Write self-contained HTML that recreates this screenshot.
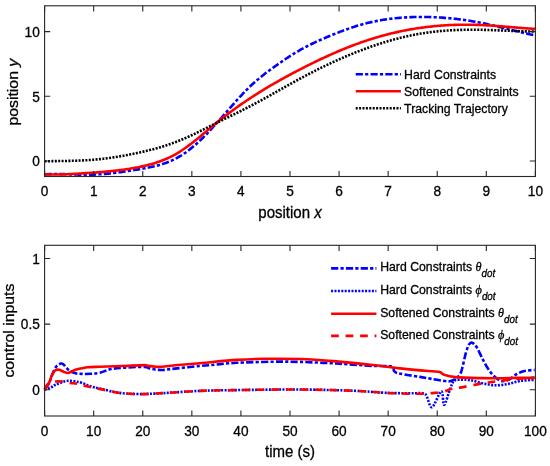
<!DOCTYPE html>
<html><head><meta charset="utf-8"><title>Figure</title>
<style>
html,body{margin:0;padding:0;background:#fff;}
body{width:550px;height:466px;overflow:hidden;}
svg{display:block;}
text{font-family:"Liberation Sans",Arial,Helvetica,sans-serif;fill:#000;stroke:#000;stroke-width:0.3px;}
</style></head><body>
<svg width="550" height="466" viewBox="0 0 550 466">
<rect width="550" height="466" fill="#fff"/>

<g fill="none" stroke-linejoin="round">
<path d="M44.60 174.41 C45.02 174.38 46.27 174.30 47.10 174.25 C47.93 174.21 48.77 174.17 49.60 174.15 C50.43 174.12 51.27 174.09 52.10 174.08 C52.93 174.06 53.77 174.05 54.60 174.04 C55.43 174.04 56.27 174.03 57.10 174.04 C57.93 174.04 58.77 174.05 59.60 174.06 C60.43 174.07 61.27 174.09 62.10 174.10 C62.93 174.12 63.77 174.14 64.60 174.16 C65.43 174.19 66.27 174.21 67.10 174.24 C67.93 174.26 68.77 174.29 69.60 174.32 C70.43 174.34 71.27 174.37 72.10 174.40 C72.93 174.43 73.77 174.46 74.60 174.48 C75.43 174.51 76.27 174.54 77.10 174.56 C77.93 174.59 78.77 174.61 79.60 174.63 C80.43 174.65 81.27 174.67 82.10 174.68 C82.93 174.70 83.77 174.71 84.60 174.72 C85.43 174.72 86.27 174.73 87.10 174.73 C87.93 174.73 88.77 174.72 89.60 174.71 C90.43 174.70 91.27 174.68 92.10 174.66 C92.93 174.64 93.77 174.61 94.60 174.58 C95.43 174.55 96.27 174.51 97.10 174.47 C97.93 174.42 98.77 174.38 99.60 174.32 C100.43 174.27 101.27 174.21 102.10 174.15 C102.93 174.09 103.77 174.03 104.60 173.96 C105.43 173.89 106.27 173.81 107.10 173.74 C107.93 173.66 108.77 173.58 109.60 173.49 C110.43 173.41 111.27 173.32 112.10 173.22 C112.93 173.13 113.77 173.03 114.60 172.93 C115.43 172.83 116.27 172.73 117.10 172.63 C117.93 172.52 118.77 172.41 119.60 172.30 C120.43 172.19 121.27 172.07 122.10 171.95 C122.93 171.84 123.77 171.72 124.60 171.59 C125.43 171.47 126.27 171.35 127.10 171.22 C127.93 171.09 128.77 170.96 129.60 170.83 C130.43 170.70 131.27 170.57 132.10 170.43 C132.93 170.30 133.77 170.16 134.60 170.03 C135.43 169.89 136.27 169.75 137.10 169.61 C137.93 169.47 138.77 169.33 139.60 169.18 C140.43 169.04 141.27 168.90 142.10 168.75 C142.93 168.61 143.77 168.46 144.60 168.31 C145.43 168.16 146.27 168.00 147.10 167.84 C147.93 167.68 148.77 167.52 149.60 167.35 C150.43 167.18 151.27 167.01 152.10 166.82 C152.93 166.64 153.77 166.45 154.60 166.25 C155.43 166.05 156.27 165.85 157.10 165.63 C157.93 165.41 158.77 165.19 159.60 164.95 C160.43 164.71 161.27 164.47 162.10 164.21 C162.93 163.94 163.77 163.67 164.60 163.38 C165.43 163.10 166.27 162.80 167.10 162.48 C167.93 162.17 168.77 161.84 169.60 161.49 C170.43 161.15 171.27 160.78 172.10 160.40 C172.93 160.02 173.77 159.63 174.60 159.21 C175.43 158.79 176.27 158.36 177.10 157.91 C177.93 157.45 178.77 156.98 179.60 156.48 C180.43 155.98 181.27 155.47 182.10 154.93 C182.93 154.39 183.77 153.83 184.60 153.25 C185.43 152.67 186.27 152.07 187.10 151.46 C187.93 150.84 188.77 150.20 189.60 149.55 C190.43 148.89 191.27 148.22 192.10 147.53 C192.93 146.84 193.77 146.14 194.60 145.42 C195.43 144.69 196.27 143.96 197.10 143.20 C197.93 142.45 198.77 141.68 199.60 140.90 C200.43 140.12 201.27 139.32 202.10 138.51 C202.93 137.70 203.77 136.88 204.60 136.04 C205.43 135.21 206.27 134.36 207.10 133.50 C207.93 132.65 208.77 131.78 209.60 130.90 C210.43 130.02 211.27 129.13 212.10 128.23 C212.93 127.33 213.77 126.42 214.60 125.50 C215.43 124.58 216.27 123.66 217.10 122.73 C217.93 121.79 218.77 120.85 219.60 119.91 C220.43 118.97 221.27 118.02 222.10 117.06 C222.93 116.11 223.77 115.15 224.60 114.20 C225.43 113.24 226.27 112.28 227.10 111.33 C227.93 110.37 228.77 109.41 229.60 108.46 C230.43 107.50 231.27 106.55 232.10 105.60 C232.93 104.65 233.77 103.71 234.60 102.77 C235.43 101.83 236.27 100.90 237.10 99.97 C237.93 99.05 238.77 98.13 239.60 97.22 C240.43 96.32 241.27 95.42 242.10 94.53 C242.93 93.64 243.77 92.77 244.60 91.91 C245.43 91.04 246.27 90.19 247.10 89.36 C247.93 88.53 248.77 87.71 249.60 86.90 C250.43 86.10 251.27 85.32 252.10 84.55 C252.93 83.78 253.77 83.03 254.60 82.29 C255.43 81.55 256.27 80.82 257.10 80.11 C257.93 79.40 258.77 78.70 259.60 78.02 C260.43 77.33 261.27 76.66 262.10 75.99 C262.93 75.33 263.77 74.67 264.60 74.03 C265.43 73.38 266.27 72.75 267.10 72.12 C267.93 71.49 268.77 70.87 269.60 70.26 C270.43 69.64 271.27 69.04 272.10 68.43 C272.93 67.83 273.77 67.23 274.60 66.64 C275.43 66.04 276.27 65.45 277.10 64.86 C277.93 64.27 278.77 63.69 279.60 63.11 C280.43 62.53 281.27 61.95 282.10 61.38 C282.93 60.81 283.77 60.25 284.60 59.68 C285.43 59.12 286.27 58.57 287.10 58.02 C287.93 57.47 288.77 56.93 289.60 56.39 C290.43 55.85 291.27 55.32 292.10 54.80 C292.93 54.28 293.77 53.76 294.60 53.25 C295.43 52.74 296.27 52.24 297.10 51.75 C297.93 51.25 298.77 50.77 299.60 50.29 C300.43 49.82 301.27 49.35 302.10 48.89 C302.93 48.43 303.77 47.98 304.60 47.54 C305.43 47.09 306.27 46.66 307.10 46.23 C307.93 45.80 308.77 45.38 309.60 44.96 C310.43 44.55 311.27 44.14 312.10 43.74 C312.93 43.34 313.77 42.94 314.60 42.55 C315.43 42.16 316.27 41.78 317.10 41.40 C317.93 41.02 318.77 40.64 319.60 40.27 C320.43 39.90 321.27 39.54 322.10 39.17 C322.93 38.81 323.77 38.45 324.60 38.10 C325.43 37.74 326.27 37.39 327.10 37.04 C327.93 36.69 328.77 36.35 329.60 36.00 C330.43 35.66 331.27 35.32 332.10 34.98 C332.93 34.64 333.77 34.30 334.60 33.97 C335.43 33.63 336.27 33.30 337.10 32.97 C337.93 32.64 338.77 32.32 339.60 32.00 C340.43 31.67 341.27 31.36 342.10 31.04 C342.93 30.73 343.77 30.41 344.60 30.11 C345.43 29.80 346.27 29.50 347.10 29.20 C347.93 28.90 348.77 28.61 349.60 28.32 C350.43 28.03 351.27 27.75 352.10 27.47 C352.93 27.19 353.77 26.92 354.60 26.65 C355.43 26.38 356.27 26.12 357.10 25.86 C357.93 25.61 358.77 25.36 359.60 25.11 C360.43 24.87 361.27 24.63 362.10 24.40 C362.93 24.17 363.77 23.95 364.60 23.73 C365.43 23.51 366.27 23.30 367.10 23.09 C367.93 22.88 368.77 22.68 369.60 22.49 C370.43 22.29 371.27 22.11 372.10 21.92 C372.93 21.74 373.77 21.56 374.60 21.39 C375.43 21.22 376.27 21.06 377.10 20.90 C377.93 20.74 378.77 20.58 379.60 20.43 C380.43 20.28 381.27 20.14 382.10 20.00 C382.93 19.86 383.77 19.73 384.60 19.60 C385.43 19.48 386.27 19.35 387.10 19.24 C387.93 19.12 388.77 19.01 389.60 18.90 C390.43 18.79 391.27 18.69 392.10 18.59 C392.93 18.49 393.77 18.40 394.60 18.31 C395.43 18.22 396.27 18.14 397.10 18.06 C397.93 17.98 398.77 17.91 399.60 17.84 C400.43 17.77 401.27 17.70 402.10 17.64 C402.93 17.58 403.77 17.53 404.60 17.47 C405.43 17.42 406.27 17.37 407.10 17.33 C407.93 17.29 408.77 17.25 409.60 17.21 C410.43 17.17 411.27 17.14 412.10 17.11 C412.93 17.09 413.77 17.06 414.60 17.04 C415.43 17.02 416.27 17.00 417.10 16.99 C417.93 16.98 418.77 16.97 419.60 16.96 C420.43 16.96 421.27 16.95 422.10 16.95 C422.93 16.96 423.77 16.96 424.60 16.97 C425.43 16.98 426.27 16.99 427.10 17.00 C427.93 17.02 428.77 17.04 429.60 17.06 C430.43 17.08 431.27 17.10 432.10 17.13 C432.93 17.16 433.77 17.19 434.60 17.23 C435.43 17.27 436.27 17.31 437.10 17.35 C437.93 17.39 438.77 17.44 439.60 17.49 C440.43 17.54 441.27 17.59 442.10 17.65 C442.93 17.70 443.77 17.76 444.60 17.83 C445.43 17.89 446.27 17.96 447.10 18.03 C447.93 18.10 448.77 18.18 449.60 18.25 C450.43 18.33 451.27 18.41 452.10 18.50 C452.93 18.58 453.77 18.67 454.60 18.76 C455.43 18.86 456.27 18.95 457.10 19.05 C457.93 19.15 458.77 19.25 459.60 19.36 C460.43 19.46 461.27 19.57 462.10 19.69 C462.93 19.80 463.77 19.92 464.60 20.04 C465.43 20.16 466.27 20.28 467.10 20.41 C467.93 20.53 468.77 20.66 469.60 20.80 C470.43 20.93 471.27 21.07 472.10 21.21 C472.93 21.35 473.77 21.50 474.60 21.65 C475.43 21.80 476.27 21.95 477.10 22.10 C477.93 22.26 478.77 22.42 479.60 22.58 C480.43 22.74 481.27 22.91 482.10 23.08 C482.93 23.25 483.77 23.42 484.60 23.60 C485.43 23.77 486.27 23.95 487.10 24.13 C487.93 24.31 488.77 24.50 489.60 24.68 C490.43 24.87 491.27 25.06 492.10 25.25 C492.93 25.44 493.77 25.63 494.60 25.83 C495.43 26.02 496.27 26.22 497.10 26.42 C497.93 26.62 498.77 26.81 499.60 27.02 C500.43 27.22 501.27 27.42 502.10 27.62 C502.93 27.82 503.77 28.03 504.60 28.23 C505.43 28.43 506.27 28.64 507.10 28.84 C507.93 29.05 508.77 29.25 509.60 29.46 C510.43 29.66 511.27 29.87 512.10 30.07 C512.93 30.28 513.77 30.48 514.60 30.68 C515.43 30.89 516.27 31.09 517.10 31.29 C517.93 31.49 518.77 31.69 519.60 31.89 C520.43 32.09 521.27 32.29 522.10 32.49 C522.93 32.69 523.77 32.88 524.60 33.07 C525.43 33.27 526.27 33.46 527.10 33.65 C527.93 33.84 528.77 34.02 529.60 34.21 C530.43 34.39 531.27 34.57 532.10 34.75 C532.93 34.93 534.12 35.18 534.60 35.28 C535.08 35.38 534.93 35.35 535.00 35.36" stroke="#0000ff" stroke-width="2.60" stroke-dasharray="7.2 2.2 3.2 2.2"/>
<path d="M44.60 174.41 C45.02 174.42 46.27 174.45 47.10 174.46 C47.93 174.47 48.77 174.48 49.60 174.49 C50.43 174.50 51.27 174.50 52.10 174.50 C52.93 174.50 53.77 174.49 54.60 174.49 C55.43 174.48 56.27 174.47 57.10 174.46 C57.93 174.45 58.77 174.43 59.60 174.41 C60.43 174.39 61.27 174.37 62.10 174.35 C62.93 174.33 63.77 174.30 64.60 174.27 C65.43 174.24 66.27 174.21 67.10 174.18 C67.93 174.15 68.77 174.11 69.60 174.08 C70.43 174.04 71.27 174.00 72.10 173.96 C72.93 173.92 73.77 173.88 74.60 173.83 C75.43 173.79 76.27 173.74 77.10 173.69 C77.93 173.65 78.77 173.60 79.60 173.55 C80.43 173.50 81.27 173.44 82.10 173.39 C82.93 173.34 83.77 173.28 84.60 173.23 C85.43 173.17 86.27 173.12 87.10 173.06 C87.93 173.01 88.77 172.95 89.60 172.89 C90.43 172.83 91.27 172.77 92.10 172.71 C92.93 172.65 93.77 172.59 94.60 172.53 C95.43 172.47 96.27 172.41 97.10 172.35 C97.93 172.28 98.77 172.22 99.60 172.15 C100.43 172.08 101.27 172.02 102.10 171.95 C102.93 171.88 103.77 171.81 104.60 171.73 C105.43 171.66 106.27 171.59 107.10 171.51 C107.93 171.43 108.77 171.35 109.60 171.27 C110.43 171.19 111.27 171.10 112.10 171.02 C112.93 170.93 113.77 170.84 114.60 170.75 C115.43 170.66 116.27 170.56 117.10 170.47 C117.93 170.37 118.77 170.27 119.60 170.16 C120.43 170.06 121.27 169.95 122.10 169.84 C122.93 169.73 123.77 169.61 124.60 169.50 C125.43 169.38 126.27 169.26 127.10 169.13 C127.93 169.00 128.77 168.87 129.60 168.74 C130.43 168.61 131.27 168.47 132.10 168.33 C132.93 168.18 133.77 168.04 134.60 167.88 C135.43 167.73 136.27 167.58 137.10 167.42 C137.93 167.25 138.77 167.09 139.60 166.92 C140.43 166.75 141.27 166.57 142.10 166.39 C142.93 166.21 143.77 166.02 144.60 165.82 C145.43 165.63 146.27 165.43 147.10 165.22 C147.93 165.01 148.77 164.80 149.60 164.58 C150.43 164.35 151.27 164.12 152.10 163.88 C152.93 163.64 153.77 163.40 154.60 163.14 C155.43 162.88 156.27 162.61 157.10 162.34 C157.93 162.06 158.77 161.77 159.60 161.48 C160.43 161.18 161.27 160.87 162.10 160.55 C162.93 160.23 163.77 159.90 164.60 159.55 C165.43 159.21 166.27 158.85 167.10 158.48 C167.93 158.11 168.77 157.73 169.60 157.33 C170.43 156.93 171.27 156.52 172.10 156.10 C172.93 155.67 173.77 155.23 174.60 154.78 C175.43 154.32 176.27 153.85 177.10 153.37 C177.93 152.88 178.77 152.38 179.60 151.86 C180.43 151.34 181.27 150.80 182.10 150.25 C182.93 149.70 183.77 149.13 184.60 148.55 C185.43 147.97 186.27 147.38 187.10 146.77 C187.93 146.16 188.77 145.54 189.60 144.91 C190.43 144.28 191.27 143.64 192.10 142.99 C192.93 142.34 193.77 141.68 194.60 141.02 C195.43 140.35 196.27 139.67 197.10 139.00 C197.93 138.32 198.77 137.63 199.60 136.94 C200.43 136.25 201.27 135.55 202.10 134.86 C202.93 134.16 203.77 133.46 204.60 132.76 C205.43 132.06 206.27 131.35 207.10 130.65 C207.93 129.95 208.77 129.25 209.60 128.55 C210.43 127.85 211.27 127.15 212.10 126.46 C212.93 125.77 213.77 125.08 214.60 124.39 C215.43 123.71 216.27 123.03 217.10 122.36 C217.93 121.68 218.77 121.02 219.60 120.35 C220.43 119.69 221.27 119.03 222.10 118.38 C222.93 117.73 223.77 117.08 224.60 116.44 C225.43 115.80 226.27 115.16 227.10 114.53 C227.93 113.90 228.77 113.28 229.60 112.65 C230.43 112.03 231.27 111.42 232.10 110.80 C232.93 110.19 233.77 109.59 234.60 108.98 C235.43 108.38 236.27 107.78 237.10 107.19 C237.93 106.60 238.77 106.01 239.60 105.43 C240.43 104.84 241.27 104.26 242.10 103.69 C242.93 103.11 243.77 102.54 244.60 101.98 C245.43 101.41 246.27 100.85 247.10 100.29 C247.93 99.73 248.77 99.18 249.60 98.63 C250.43 98.08 251.27 97.53 252.10 96.99 C252.93 96.45 253.77 95.91 254.60 95.38 C255.43 94.84 256.27 94.31 257.10 93.79 C257.93 93.26 258.77 92.74 259.60 92.22 C260.43 91.70 261.27 91.18 262.10 90.67 C262.93 90.16 263.77 89.65 264.60 89.15 C265.43 88.64 266.27 88.14 267.10 87.64 C267.93 87.14 268.77 86.65 269.60 86.16 C270.43 85.66 271.27 85.17 272.10 84.69 C272.93 84.20 273.77 83.72 274.60 83.24 C275.43 82.76 276.27 82.29 277.10 81.81 C277.93 81.34 278.77 80.87 279.60 80.40 C280.43 79.93 281.27 79.47 282.10 79.00 C282.93 78.54 283.77 78.08 284.60 77.62 C285.43 77.17 286.27 76.71 287.10 76.26 C287.93 75.81 288.77 75.36 289.60 74.91 C290.43 74.46 291.27 74.02 292.10 73.57 C292.93 73.13 293.77 72.69 294.60 72.25 C295.43 71.81 296.27 71.38 297.10 70.94 C297.93 70.51 298.77 70.07 299.60 69.64 C300.43 69.21 301.27 68.78 302.10 68.36 C302.93 67.93 303.77 67.51 304.60 67.08 C305.43 66.66 306.27 66.24 307.10 65.82 C307.93 65.40 308.77 64.99 309.60 64.57 C310.43 64.16 311.27 63.74 312.10 63.33 C312.93 62.93 313.77 62.52 314.60 62.11 C315.43 61.71 316.27 61.30 317.10 60.90 C317.93 60.50 318.77 60.10 319.60 59.71 C320.43 59.31 321.27 58.92 322.10 58.53 C322.93 58.14 323.77 57.75 324.60 57.37 C325.43 56.98 326.27 56.60 327.10 56.22 C327.93 55.84 328.77 55.46 329.60 55.09 C330.43 54.71 331.27 54.34 332.10 53.97 C332.93 53.60 333.77 53.24 334.60 52.87 C335.43 52.51 336.27 52.15 337.10 51.79 C337.93 51.44 338.77 51.08 339.60 50.73 C340.43 50.38 341.27 50.03 342.10 49.69 C342.93 49.35 343.77 49.00 344.60 48.67 C345.43 48.33 346.27 47.99 347.10 47.66 C347.93 47.33 348.77 47.00 349.60 46.68 C350.43 46.35 351.27 46.03 352.10 45.71 C352.93 45.40 353.77 45.08 354.60 44.77 C355.43 44.46 356.27 44.15 357.10 43.85 C357.93 43.54 358.77 43.24 359.60 42.95 C360.43 42.65 361.27 42.36 362.10 42.07 C362.93 41.78 363.77 41.50 364.60 41.22 C365.43 40.93 366.27 40.66 367.10 40.38 C367.93 40.11 368.77 39.84 369.60 39.57 C370.43 39.31 371.27 39.04 372.10 38.78 C372.93 38.52 373.77 38.27 374.60 38.02 C375.43 37.76 376.27 37.52 377.10 37.27 C377.93 37.03 378.77 36.79 379.60 36.55 C380.43 36.31 381.27 36.08 382.10 35.85 C382.93 35.62 383.77 35.39 384.60 35.17 C385.43 34.95 386.27 34.73 387.10 34.51 C387.93 34.30 388.77 34.09 389.60 33.88 C390.43 33.67 391.27 33.47 392.10 33.27 C392.93 33.07 393.77 32.87 394.60 32.68 C395.43 32.48 396.27 32.29 397.10 32.11 C397.93 31.92 398.77 31.74 399.60 31.56 C400.43 31.38 401.27 31.21 402.10 31.03 C402.93 30.86 403.77 30.69 404.60 30.53 C405.43 30.37 406.27 30.20 407.10 30.05 C407.93 29.89 408.77 29.74 409.60 29.59 C410.43 29.44 411.27 29.29 412.10 29.15 C412.93 29.00 413.77 28.86 414.60 28.73 C415.43 28.59 416.27 28.46 417.10 28.33 C417.93 28.20 418.77 28.08 419.60 27.96 C420.43 27.84 421.27 27.72 422.10 27.60 C422.93 27.49 423.77 27.38 424.60 27.27 C425.43 27.16 426.27 27.06 427.10 26.96 C427.93 26.86 428.77 26.76 429.60 26.67 C430.43 26.57 431.27 26.48 432.10 26.40 C432.93 26.31 433.77 26.23 434.60 26.15 C435.43 26.07 436.27 25.99 437.10 25.92 C437.93 25.85 438.77 25.78 439.60 25.71 C440.43 25.64 441.27 25.58 442.10 25.52 C442.93 25.46 443.77 25.40 444.60 25.35 C445.43 25.30 446.27 25.25 447.10 25.20 C447.93 25.15 448.77 25.11 449.60 25.07 C450.43 25.03 451.27 24.99 452.10 24.96 C452.93 24.93 453.77 24.89 454.60 24.87 C455.43 24.84 456.27 24.82 457.10 24.79 C457.93 24.77 458.77 24.76 459.60 24.74 C460.43 24.73 461.27 24.71 462.10 24.70 C462.93 24.70 463.77 24.69 464.60 24.69 C465.43 24.68 466.27 24.69 467.10 24.69 C467.93 24.69 468.77 24.70 469.60 24.71 C470.43 24.72 471.27 24.73 472.10 24.74 C472.93 24.76 473.77 24.78 474.60 24.80 C475.43 24.82 476.27 24.84 477.10 24.87 C477.93 24.90 478.77 24.93 479.60 24.96 C480.43 24.99 481.27 25.03 482.10 25.07 C482.93 25.11 483.77 25.15 484.60 25.19 C485.43 25.23 486.27 25.28 487.10 25.33 C487.93 25.38 488.77 25.43 489.60 25.48 C490.43 25.53 491.27 25.59 492.10 25.64 C492.93 25.70 493.77 25.76 494.60 25.82 C495.43 25.87 496.27 25.94 497.10 26.00 C497.93 26.06 498.77 26.12 499.60 26.19 C500.43 26.25 501.27 26.32 502.10 26.38 C502.93 26.45 503.77 26.52 504.60 26.58 C505.43 26.65 506.27 26.72 507.10 26.79 C507.93 26.86 508.77 26.93 509.60 26.99 C510.43 27.06 511.27 27.13 512.10 27.20 C512.93 27.27 513.77 27.34 514.60 27.41 C515.43 27.48 516.27 27.54 517.10 27.61 C517.93 27.68 518.77 27.75 519.60 27.81 C520.43 27.88 521.27 27.94 522.10 28.01 C522.93 28.07 523.77 28.14 524.60 28.20 C525.43 28.26 526.27 28.32 527.10 28.38 C527.93 28.44 528.77 28.50 529.60 28.55 C530.43 28.61 531.27 28.66 532.10 28.71 C532.93 28.77 534.12 28.84 534.60 28.86 C535.08 28.89 534.93 28.88 535.00 28.89" stroke="#ff0000" stroke-width="2.60"/>
<path d="M44.60 161.32 C45.02 161.31 46.27 161.28 47.10 161.26 C47.93 161.24 48.77 161.23 49.60 161.21 C50.43 161.19 51.27 161.18 52.10 161.17 C52.93 161.15 53.77 161.14 54.60 161.13 C55.43 161.11 56.27 161.10 57.10 161.09 C57.93 161.08 58.77 161.06 59.60 161.05 C60.43 161.04 61.27 161.03 62.10 161.01 C62.93 161.00 63.77 160.99 64.60 160.97 C65.43 160.96 66.27 160.94 67.10 160.93 C67.93 160.91 68.77 160.90 69.60 160.88 C70.43 160.86 71.27 160.84 72.10 160.82 C72.93 160.80 73.77 160.77 74.60 160.75 C75.43 160.72 76.27 160.70 77.10 160.67 C77.93 160.64 78.77 160.61 79.60 160.57 C80.43 160.54 81.27 160.50 82.10 160.46 C82.93 160.42 83.77 160.38 84.60 160.33 C85.43 160.29 86.27 160.24 87.10 160.19 C87.93 160.14 88.77 160.08 89.60 160.02 C90.43 159.96 91.27 159.90 92.10 159.84 C92.93 159.77 93.77 159.70 94.60 159.62 C95.43 159.55 96.27 159.47 97.10 159.39 C97.93 159.31 98.77 159.23 99.60 159.14 C100.43 159.05 101.27 158.96 102.10 158.86 C102.93 158.77 103.77 158.67 104.60 158.57 C105.43 158.47 106.27 158.36 107.10 158.25 C107.93 158.14 108.77 158.03 109.60 157.92 C110.43 157.80 111.27 157.68 112.10 157.56 C112.93 157.44 113.77 157.32 114.60 157.19 C115.43 157.06 116.27 156.93 117.10 156.79 C117.93 156.66 118.77 156.52 119.60 156.38 C120.43 156.24 121.27 156.10 122.10 155.95 C122.93 155.81 123.77 155.66 124.60 155.50 C125.43 155.35 126.27 155.20 127.10 155.04 C127.93 154.88 128.77 154.72 129.60 154.56 C130.43 154.39 131.27 154.23 132.10 154.06 C132.93 153.89 133.77 153.72 134.60 153.54 C135.43 153.37 136.27 153.19 137.10 153.01 C137.93 152.83 138.77 152.65 139.60 152.47 C140.43 152.28 141.27 152.10 142.10 151.91 C142.93 151.72 143.77 151.52 144.60 151.33 C145.43 151.13 146.27 150.93 147.10 150.73 C147.93 150.53 148.77 150.32 149.60 150.11 C150.43 149.91 151.27 149.69 152.10 149.48 C152.93 149.26 153.77 149.04 154.60 148.82 C155.43 148.59 156.27 148.36 157.10 148.13 C157.93 147.90 158.77 147.66 159.60 147.42 C160.43 147.17 161.27 146.93 162.10 146.67 C162.93 146.42 163.77 146.16 164.60 145.90 C165.43 145.64 166.27 145.37 167.10 145.10 C167.93 144.82 168.77 144.55 169.60 144.26 C170.43 143.97 171.27 143.68 172.10 143.39 C172.93 143.09 173.77 142.79 174.60 142.48 C175.43 142.17 176.27 141.85 177.10 141.53 C177.93 141.20 178.77 140.88 179.60 140.54 C180.43 140.20 181.27 139.86 182.10 139.51 C182.93 139.16 183.77 138.80 184.60 138.44 C185.43 138.07 186.27 137.70 187.10 137.33 C187.93 136.96 188.77 136.58 189.60 136.19 C190.43 135.81 191.27 135.42 192.10 135.03 C192.93 134.63 193.77 134.24 194.60 133.84 C195.43 133.43 196.27 133.03 197.10 132.62 C197.93 132.22 198.77 131.81 199.60 131.40 C200.43 130.98 201.27 130.57 202.10 130.15 C202.93 129.74 203.77 129.32 204.60 128.90 C205.43 128.48 206.27 128.06 207.10 127.65 C207.93 127.23 208.77 126.81 209.60 126.39 C210.43 125.97 211.27 125.55 212.10 125.13 C212.93 124.71 213.77 124.29 214.60 123.88 C215.43 123.46 216.27 123.05 217.10 122.63 C217.93 122.22 218.77 121.81 219.60 121.40 C220.43 120.99 221.27 120.58 222.10 120.17 C222.93 119.76 223.77 119.35 224.60 118.95 C225.43 118.54 226.27 118.13 227.10 117.72 C227.93 117.32 228.77 116.91 229.60 116.50 C230.43 116.09 231.27 115.68 232.10 115.28 C232.93 114.87 233.77 114.46 234.60 114.05 C235.43 113.64 236.27 113.23 237.10 112.81 C237.93 112.40 238.77 111.99 239.60 111.57 C240.43 111.16 241.27 110.74 242.10 110.32 C242.93 109.90 243.77 109.48 244.60 109.06 C245.43 108.63 246.27 108.21 247.10 107.78 C247.93 107.35 248.77 106.92 249.60 106.49 C250.43 106.05 251.27 105.62 252.10 105.18 C252.93 104.74 253.77 104.29 254.60 103.85 C255.43 103.40 256.27 102.96 257.10 102.51 C257.93 102.06 258.77 101.61 259.60 101.15 C260.43 100.70 261.27 100.24 262.10 99.78 C262.93 99.33 263.77 98.87 264.60 98.41 C265.43 97.94 266.27 97.48 267.10 97.02 C267.93 96.55 268.77 96.09 269.60 95.62 C270.43 95.16 271.27 94.69 272.10 94.22 C272.93 93.76 273.77 93.29 274.60 92.82 C275.43 92.35 276.27 91.88 277.10 91.41 C277.93 90.94 278.77 90.47 279.60 90.01 C280.43 89.54 281.27 89.07 282.10 88.60 C282.93 88.13 283.77 87.66 284.60 87.19 C285.43 86.73 286.27 86.26 287.10 85.79 C287.93 85.33 288.77 84.86 289.60 84.40 C290.43 83.94 291.27 83.47 292.10 83.01 C292.93 82.55 293.77 82.09 294.60 81.63 C295.43 81.17 296.27 80.72 297.10 80.26 C297.93 79.81 298.77 79.36 299.60 78.91 C300.43 78.46 301.27 78.01 302.10 77.56 C302.93 77.12 303.77 76.67 304.60 76.23 C305.43 75.79 306.27 75.35 307.10 74.91 C307.93 74.48 308.77 74.04 309.60 73.61 C310.43 73.18 311.27 72.75 312.10 72.33 C312.93 71.90 313.77 71.47 314.60 71.05 C315.43 70.63 316.27 70.21 317.10 69.79 C317.93 69.38 318.77 68.96 319.60 68.55 C320.43 68.14 321.27 67.73 322.10 67.32 C322.93 66.92 323.77 66.51 324.60 66.11 C325.43 65.71 326.27 65.31 327.10 64.92 C327.93 64.52 328.77 64.13 329.60 63.73 C330.43 63.34 331.27 62.96 332.10 62.57 C332.93 62.18 333.77 61.80 334.60 61.42 C335.43 61.04 336.27 60.66 337.10 60.29 C337.93 59.92 338.77 59.54 339.60 59.18 C340.43 58.81 341.27 58.44 342.10 58.08 C342.93 57.71 343.77 57.35 344.60 57.00 C345.43 56.64 346.27 56.28 347.10 55.93 C347.93 55.58 348.77 55.23 349.60 54.89 C350.43 54.54 351.27 54.20 352.10 53.86 C352.93 53.52 353.77 53.18 354.60 52.85 C355.43 52.51 356.27 52.18 357.10 51.86 C357.93 51.53 358.77 51.20 359.60 50.88 C360.43 50.56 361.27 50.24 362.10 49.93 C362.93 49.61 363.77 49.30 364.60 48.99 C365.43 48.68 366.27 48.38 367.10 48.07 C367.93 47.77 368.77 47.47 369.60 47.18 C370.43 46.88 371.27 46.59 372.10 46.30 C372.93 46.01 373.77 45.72 374.60 45.44 C375.43 45.16 376.27 44.88 377.10 44.60 C377.93 44.33 378.77 44.05 379.60 43.79 C380.43 43.52 381.27 43.25 382.10 42.99 C382.93 42.73 383.77 42.47 384.60 42.22 C385.43 41.96 386.27 41.71 387.10 41.46 C387.93 41.22 388.77 40.97 389.60 40.73 C390.43 40.49 391.27 40.26 392.10 40.03 C392.93 39.79 393.77 39.56 394.60 39.34 C395.43 39.12 396.27 38.89 397.10 38.68 C397.93 38.46 398.77 38.25 399.60 38.04 C400.43 37.83 401.27 37.62 402.10 37.42 C402.93 37.22 403.77 37.02 404.60 36.83 C405.43 36.64 406.27 36.45 407.10 36.26 C407.93 36.08 408.77 35.90 409.60 35.72 C410.43 35.54 411.27 35.37 412.10 35.20 C412.93 35.03 413.77 34.87 414.60 34.71 C415.43 34.55 416.27 34.39 417.10 34.24 C417.93 34.09 418.77 33.94 419.60 33.80 C420.43 33.66 421.27 33.52 422.10 33.38 C422.93 33.25 423.77 33.12 424.60 32.99 C425.43 32.87 426.27 32.74 427.10 32.63 C427.93 32.51 428.77 32.40 429.60 32.29 C430.43 32.18 431.27 32.07 432.10 31.97 C432.93 31.87 433.77 31.77 434.60 31.68 C435.43 31.58 436.27 31.49 437.10 31.41 C437.93 31.32 438.77 31.24 439.60 31.16 C440.43 31.08 441.27 31.00 442.10 30.93 C442.93 30.86 443.77 30.79 444.60 30.73 C445.43 30.66 446.27 30.60 447.10 30.54 C447.93 30.48 448.77 30.43 449.60 30.38 C450.43 30.33 451.27 30.28 452.10 30.23 C452.93 30.19 453.77 30.15 454.60 30.11 C455.43 30.07 456.27 30.03 457.10 30.00 C457.93 29.97 458.77 29.94 459.60 29.91 C460.43 29.88 461.27 29.86 462.10 29.84 C462.93 29.82 463.77 29.80 464.60 29.78 C465.43 29.77 466.27 29.76 467.10 29.75 C467.93 29.74 468.77 29.73 469.60 29.72 C470.43 29.72 471.27 29.71 472.10 29.71 C472.93 29.71 473.77 29.72 474.60 29.72 C475.43 29.73 476.27 29.73 477.10 29.74 C477.93 29.75 478.77 29.76 479.60 29.77 C480.43 29.79 481.27 29.80 482.10 29.82 C482.93 29.84 483.77 29.86 484.60 29.88 C485.43 29.90 486.27 29.92 487.10 29.95 C487.93 29.97 488.77 30.00 489.60 30.03 C490.43 30.05 491.27 30.08 492.10 30.11 C492.93 30.14 493.77 30.17 494.60 30.21 C495.43 30.24 496.27 30.27 497.10 30.30 C497.93 30.34 498.77 30.37 499.60 30.40 C500.43 30.44 501.27 30.47 502.10 30.51 C502.93 30.54 503.77 30.58 504.60 30.61 C505.43 30.65 506.27 30.68 507.10 30.72 C507.93 30.75 508.77 30.79 509.60 30.82 C510.43 30.86 511.27 30.89 512.10 30.92 C512.93 30.95 513.77 30.99 514.60 31.02 C515.43 31.05 516.27 31.08 517.10 31.11 C517.93 31.14 518.77 31.17 519.60 31.20 C520.43 31.22 521.27 31.25 522.10 31.27 C522.93 31.30 523.77 31.32 524.60 31.34 C525.43 31.36 526.27 31.38 527.10 31.40 C527.93 31.41 528.77 31.43 529.60 31.44 C530.43 31.46 531.27 31.47 532.10 31.47 C532.93 31.48 534.12 31.49 534.60 31.49 C535.08 31.50 534.93 31.49 535.00 31.49" stroke="#000" stroke-width="2.60" stroke-dasharray="2.0 1.4"/>
</g>
<rect x="44.60" y="5.80" width="490.80" height="170.70" fill="none" stroke="#262626" stroke-width="1.1"/>
<path d="M44.60 176.50V170.90M44.60 5.80V11.40M93.68 176.50V170.90M93.68 5.80V11.40M142.76 176.50V170.90M142.76 5.80V11.40M191.84 176.50V170.90M191.84 5.80V11.40M240.92 176.50V170.90M240.92 5.80V11.40M290.00 176.50V170.90M290.00 5.80V11.40M339.08 176.50V170.90M339.08 5.80V11.40M388.16 176.50V170.90M388.16 5.80V11.40M437.24 176.50V170.90M437.24 5.80V11.40M486.32 176.50V170.90M486.32 5.80V11.40M535.40 176.50V170.90M535.40 5.80V11.40M44.60 160.98H50.20M535.40 160.98H529.80M44.60 96.32H50.20M535.40 96.32H529.80M44.60 31.66H50.20M535.40 31.66H529.80" stroke="#262626" stroke-width="1.1" fill="none"/>
<text transform="translate(44.60 196.10) scale(0.950 1)" font-size="14.40" text-anchor="middle">0</text>
<text transform="translate(93.68 196.10) scale(0.950 1)" font-size="14.40" text-anchor="middle">1</text>
<text transform="translate(142.76 196.10) scale(0.950 1)" font-size="14.40" text-anchor="middle">2</text>
<text transform="translate(191.84 196.10) scale(0.950 1)" font-size="14.40" text-anchor="middle">3</text>
<text transform="translate(240.92 196.10) scale(0.950 1)" font-size="14.40" text-anchor="middle">4</text>
<text transform="translate(290.00 196.10) scale(0.950 1)" font-size="14.40" text-anchor="middle">5</text>
<text transform="translate(339.08 196.10) scale(0.950 1)" font-size="14.40" text-anchor="middle">6</text>
<text transform="translate(388.16 196.10) scale(0.950 1)" font-size="14.40" text-anchor="middle">7</text>
<text transform="translate(437.24 196.10) scale(0.950 1)" font-size="14.40" text-anchor="middle">8</text>
<text transform="translate(486.32 196.10) scale(0.950 1)" font-size="14.40" text-anchor="middle">9</text>
<text transform="translate(535.40 196.10) scale(0.950 1)" font-size="14.40" text-anchor="middle">10</text>
<text transform="translate(39.80 166.18) scale(0.950 1)" font-size="14.40" text-anchor="end">0</text>
<text transform="translate(39.80 101.52) scale(0.950 1)" font-size="14.40" text-anchor="end">5</text>
<text transform="translate(39.80 36.86) scale(0.950 1)" font-size="14.40" text-anchor="end">10</text>
<text transform="translate(290.00 217.50) scale(0.950 1)" font-size="15.80" text-anchor="middle">position <tspan font-style="italic">x</tspan></text>
<text transform="translate(18.0 92.15) rotate(-90) scale(1 0.950)" font-size="15.80" text-anchor="middle">position <tspan font-style="italic">y</tspan></text>
<g fill="none">
<path d="M355.7 74.2H400.9" stroke="#0000ff" stroke-width="2.60" stroke-dasharray="7.2 2.2 3.2 2.2"/>
<path d="M355.7 91.3H400.9" stroke="#ff0000" stroke-width="2.60"/>
<path d="M355.7 108.2H400.9" stroke="#000" stroke-width="2.60" stroke-dasharray="2.0 1.4"/>
</g>
<text transform="translate(404.10 78.80) scale(0.950 1)" font-size="12.90" text-anchor="start">Hard Constraints</text>
<text transform="translate(404.10 95.90) scale(0.950 1)" font-size="12.90" text-anchor="start">Softened Constraints</text>
<text transform="translate(404.10 112.80) scale(0.950 1)" font-size="12.90" text-anchor="start">Tracking Trajectory</text>
<g fill="none" stroke-linejoin="round">
<path d="M44.60 389.70 C45.32 388.63 47.77 385.50 48.90 383.30 C50.03 381.10 50.58 378.52 51.40 376.50 C52.22 374.48 52.93 372.92 53.80 371.20 C54.67 369.48 55.42 367.47 56.60 366.20 C57.78 364.93 59.75 363.90 60.90 363.60 C62.05 363.30 62.35 363.47 63.50 364.40 C64.65 365.33 66.38 367.90 67.80 369.20 C69.22 370.50 70.58 371.48 72.00 372.20 C73.42 372.92 74.63 373.22 76.30 373.50 C77.97 373.78 79.57 373.85 82.00 373.90 C84.43 373.95 87.90 374.00 90.90 373.80 C93.90 373.60 96.67 373.48 100.00 372.70 C103.33 371.92 106.73 369.95 110.90 369.10 C115.07 368.25 119.40 367.97 125.00 367.60 C130.60 367.23 140.33 366.73 144.50 366.90 C148.67 367.07 147.92 368.12 150.00 368.60 C152.08 369.08 154.83 369.57 157.00 369.80 C159.17 370.03 160.00 370.20 163.00 370.00 C166.00 369.80 168.83 369.27 175.00 368.60 C181.17 367.93 193.25 366.67 200.00 366.00 C206.75 365.33 209.43 365.13 215.50 364.60 C221.57 364.07 226.87 363.28 236.40 362.80 C245.93 362.32 262.10 361.85 272.70 361.70 C283.30 361.55 289.38 361.60 300.00 361.90 C310.62 362.20 324.28 362.83 336.40 363.50 C348.52 364.17 363.47 365.42 372.70 365.90 C381.93 366.38 388.28 365.63 391.80 366.40 C395.32 367.17 393.03 369.45 393.80 370.50 C394.57 371.55 394.62 372.03 396.40 372.70 C398.18 373.37 400.57 373.80 404.50 374.50 C408.43 375.20 415.45 376.17 420.00 376.90 C424.55 377.63 427.27 378.17 431.80 378.90 C436.33 379.63 443.95 381.00 447.20 381.30 C450.45 381.60 449.93 381.10 451.30 380.70 C452.67 380.30 453.92 379.98 455.40 378.90 C456.88 377.82 459.02 376.17 460.20 374.20 C461.38 372.23 461.57 370.60 462.50 367.10 C463.43 363.60 464.73 356.93 465.80 353.20 C466.87 349.47 467.87 346.45 468.90 344.70 C469.93 342.95 470.72 342.32 472.00 342.70 C473.28 343.08 474.80 344.22 476.60 347.00 C478.40 349.78 480.73 355.53 482.80 359.40 C484.87 363.27 486.93 367.25 489.00 370.20 C491.07 373.15 493.13 375.30 495.20 377.10 C497.27 378.90 499.08 380.60 501.40 381.00 C503.72 381.40 506.53 380.67 509.10 379.50 C511.67 378.33 514.22 375.42 516.80 374.00 C519.38 372.58 521.63 371.68 524.60 371.00 C527.57 370.32 532.93 370.08 534.60 369.90" stroke="#0000ff" stroke-width="2.60" stroke-dasharray="7.2 2.2 3.2 2.2"/>
<path d="M44.60 389.70 C45.60 389.35 48.88 388.38 50.60 387.60 C52.32 386.82 53.47 385.72 54.90 385.00 C56.33 384.28 57.48 383.93 59.20 383.30 C60.92 382.67 63.35 381.62 65.20 381.20 C67.05 380.78 68.45 380.73 70.30 380.80 C72.15 380.87 74.35 381.25 76.30 381.60 C78.25 381.95 79.75 382.15 82.00 382.90 C84.25 383.65 86.68 385.12 89.80 386.10 C92.92 387.08 95.97 387.70 100.70 388.80 C105.43 389.90 112.25 391.83 118.20 392.70 C124.15 393.57 130.35 393.85 136.40 394.00 C142.45 394.15 143.90 394.12 154.50 393.60 C165.10 393.08 186.35 391.48 200.00 390.90 C213.65 390.32 219.73 390.33 236.40 390.10 C253.07 389.87 280.32 389.38 300.00 389.50 C319.68 389.62 340.87 390.28 354.50 390.80 C368.13 391.32 374.22 392.20 381.80 392.60 C389.38 393.00 394.58 393.08 400.00 393.20 C405.42 393.32 410.08 393.12 414.30 393.30 C418.52 393.48 422.38 391.98 425.30 394.30 C428.22 396.62 429.13 407.70 431.80 407.20 C434.47 406.70 439.23 391.68 441.30 391.30 C443.37 390.92 442.63 405.58 444.20 404.90 C445.77 404.22 449.02 391.23 450.70 387.20 C452.38 383.17 452.75 381.93 454.30 380.70 C455.85 379.47 457.30 379.88 460.00 379.80 C462.70 379.72 466.70 379.62 470.50 380.20 C474.30 380.78 478.68 382.45 482.80 383.30 C486.92 384.15 491.07 385.17 495.20 385.30 C499.33 385.43 503.48 384.82 507.60 384.10 C511.72 383.38 515.40 381.72 519.90 381.00 C524.40 380.28 532.15 380.00 534.60 379.80" stroke="#0000ff" stroke-width="2.60" stroke-dasharray="2.0 1.4"/>
<path d="M44.60 389.70 C45.32 388.63 47.77 385.50 48.90 383.30 C50.03 381.10 50.55 378.43 51.40 376.50 C52.25 374.57 53.13 372.82 54.00 371.70 C54.87 370.58 55.73 370.12 56.60 369.80 C57.47 369.48 58.05 369.48 59.20 369.80 C60.35 370.12 62.07 371.17 63.50 371.70 C64.93 372.23 66.38 373.07 67.80 373.00 C69.22 372.93 70.58 371.87 72.00 371.30 C73.42 370.73 74.63 370.10 76.30 369.60 C77.97 369.10 80.12 368.70 82.00 368.30 C83.88 367.90 84.60 367.47 87.60 367.20 C90.60 366.93 94.30 366.90 100.00 366.70 C105.70 366.50 114.38 366.27 121.80 366.00 C129.22 365.73 140.13 365.12 144.50 365.10 C148.87 365.08 146.08 365.62 148.00 365.90 C149.92 366.18 153.67 366.65 156.00 366.80 C158.33 366.95 158.83 367.05 162.00 366.80 C165.17 366.55 168.67 365.90 175.00 365.30 C181.33 364.70 189.77 364.10 200.00 363.20 C210.23 362.30 225.80 360.63 236.40 359.90 C247.00 359.17 253.00 358.95 263.60 358.80 C274.20 358.65 287.87 358.57 300.00 359.00 C312.13 359.43 324.28 360.40 336.40 361.40 C348.52 362.40 362.10 363.83 372.70 365.00 C383.30 366.17 392.12 367.50 400.00 368.40 C407.88 369.30 413.52 369.83 420.00 370.40 C426.48 370.97 434.97 371.10 438.90 371.80 C442.83 372.50 440.85 373.72 443.60 374.60 C446.35 375.48 449.33 376.52 455.40 377.10 C461.47 377.68 472.33 377.92 480.00 378.10 C487.67 378.28 495.27 378.23 501.40 378.20 C507.53 378.17 511.27 377.95 516.80 377.90 C522.33 377.85 531.63 377.90 534.60 377.90" stroke="#ff0000" stroke-width="2.60"/>
<path d="M44.60 389.70 C45.00 388.92 46.10 386.23 47.00 385.00 C47.90 383.77 48.55 382.88 50.00 382.30 C51.45 381.72 53.60 381.62 55.70 381.50 C57.80 381.38 60.17 381.35 62.60 381.60 C65.03 381.85 67.87 382.63 70.30 383.00 C72.73 383.37 74.32 383.20 77.20 383.80 C80.08 384.40 83.50 385.67 87.60 386.60 C91.70 387.53 96.70 388.38 101.80 389.40 C106.90 390.42 112.43 391.93 118.20 392.70 C123.97 393.47 130.35 393.85 136.40 394.00 C142.45 394.15 143.90 394.12 154.50 393.60 C165.10 393.08 186.35 391.48 200.00 390.90 C213.65 390.32 219.73 390.33 236.40 390.10 C253.07 389.87 280.32 389.38 300.00 389.50 C319.68 389.62 340.87 390.28 354.50 390.80 C368.13 391.32 374.22 392.15 381.80 392.60 C389.38 393.05 392.97 393.30 400.00 393.50 C407.03 393.70 418.70 393.87 424.00 393.80 C429.30 393.73 428.58 393.43 431.80 393.10 C435.02 392.77 440.35 392.40 443.30 391.80 C446.25 391.20 447.25 390.13 449.50 389.50 C451.75 388.87 454.83 388.35 456.80 388.00 C458.77 387.65 457.73 388.05 461.30 387.40 C464.87 386.75 472.82 385.03 478.20 384.10 C483.58 383.17 488.45 382.52 493.60 381.80 C498.75 381.08 503.93 380.40 509.10 379.80 C514.27 379.20 520.35 378.57 524.60 378.20 C528.85 377.83 532.93 377.70 534.60 377.60" stroke="#ff0000" stroke-width="2.60" stroke-dasharray="7.7 6.8"/>
</g>
<rect x="44.60" y="245.30" width="490.80" height="170.70" fill="none" stroke="#262626" stroke-width="1.1"/>
<path d="M44.60 416.00V410.40M44.60 245.30V250.90M93.68 416.00V410.40M93.68 245.30V250.90M142.76 416.00V410.40M142.76 245.30V250.90M191.84 416.00V410.40M191.84 245.30V250.90M240.92 416.00V410.40M240.92 245.30V250.90M290.00 416.00V410.40M290.00 245.30V250.90M339.08 416.00V410.40M339.08 245.30V250.90M388.16 416.00V410.40M388.16 245.30V250.90M437.24 416.00V410.40M437.24 245.30V250.90M486.32 416.00V410.40M486.32 245.30V250.90M535.40 416.00V410.40M535.40 245.30V250.90M44.60 389.74H50.20M535.40 389.74H529.80M44.60 324.08H50.20M535.40 324.08H529.80M44.60 258.43H50.20M535.40 258.43H529.80" stroke="#262626" stroke-width="1.1" fill="none"/>
<text transform="translate(44.60 435.60) scale(0.950 1)" font-size="14.40" text-anchor="middle">0</text>
<text transform="translate(93.68 435.60) scale(0.950 1)" font-size="14.40" text-anchor="middle">10</text>
<text transform="translate(142.76 435.60) scale(0.950 1)" font-size="14.40" text-anchor="middle">20</text>
<text transform="translate(191.84 435.60) scale(0.950 1)" font-size="14.40" text-anchor="middle">30</text>
<text transform="translate(240.92 435.60) scale(0.950 1)" font-size="14.40" text-anchor="middle">40</text>
<text transform="translate(290.00 435.60) scale(0.950 1)" font-size="14.40" text-anchor="middle">50</text>
<text transform="translate(339.08 435.60) scale(0.950 1)" font-size="14.40" text-anchor="middle">60</text>
<text transform="translate(388.16 435.60) scale(0.950 1)" font-size="14.40" text-anchor="middle">70</text>
<text transform="translate(437.24 435.60) scale(0.950 1)" font-size="14.40" text-anchor="middle">80</text>
<text transform="translate(486.32 435.60) scale(0.950 1)" font-size="14.40" text-anchor="middle">90</text>
<text transform="translate(535.40 435.60) scale(0.950 1)" font-size="14.40" text-anchor="middle">100</text>
<text transform="translate(39.80 394.94) scale(0.950 1)" font-size="14.40" text-anchor="end">0</text>
<text transform="translate(39.80 329.28) scale(0.950 1)" font-size="14.40" text-anchor="end">0.5</text>
<text transform="translate(39.80 263.63) scale(0.950 1)" font-size="14.40" text-anchor="end">1</text>
<text transform="translate(290.00 456.50) scale(0.950 1)" font-size="15.80" text-anchor="middle">time (s)</text>
<text transform="translate(14.1 330.65) rotate(-90) scale(1 0.950)" font-size="15.80" text-anchor="middle">control inputs</text>
<g fill="none">
<path d="M331.1 268.4H376.4" stroke="#0000ff" stroke-width="2.60" stroke-dasharray="7.2 2.2 3.2 2.2"/>
<path d="M331.1 291.0H376.4" stroke="#0000ff" stroke-width="2.60" stroke-dasharray="2.0 1.4"/>
<path d="M331.1 313.7H376.4" stroke="#ff0000" stroke-width="2.60"/>
<path d="M331.1 335.9H376.4" stroke="#ff0000" stroke-width="2.60" stroke-dasharray="7.7 6.8"/>
</g>
<text transform="translate(380.20 271.40) scale(0.950 1)" font-size="12.90">Hard Constraints <tspan font-family="Liberation Serif,serif" font-style="italic">θ</tspan><tspan font-style="italic" font-size="10.32" dy="5.8">dot</tspan></text>
<text transform="translate(380.20 294.00) scale(0.950 1)" font-size="12.90">Hard Constraints <tspan font-family="Liberation Serif,serif" font-style="italic">ϕ</tspan><tspan font-style="italic" font-size="10.32" dy="5.8">dot</tspan></text>
<text transform="translate(380.20 316.70) scale(0.950 1)" font-size="12.90">Softened Constraints <tspan font-family="Liberation Serif,serif" font-style="italic">θ</tspan><tspan font-style="italic" font-size="10.32" dy="5.8">dot</tspan></text>
<text transform="translate(380.20 338.90) scale(0.950 1)" font-size="12.90">Softened Constraints <tspan font-family="Liberation Serif,serif" font-style="italic">ϕ</tspan><tspan font-style="italic" font-size="10.32" dy="5.8">dot</tspan></text>
</svg>
</body></html>
